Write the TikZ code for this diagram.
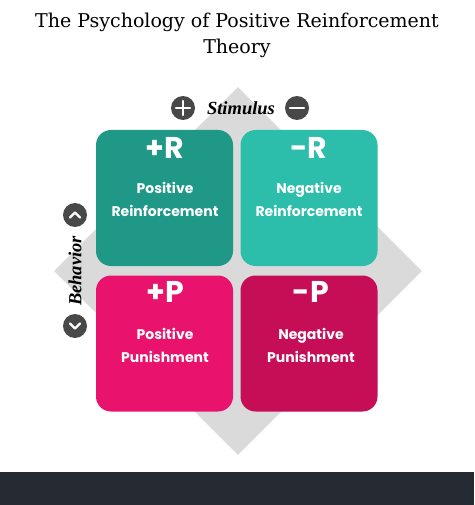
\documentclass[tikz,border=0pt]{standalone}
\usetikzlibrary{shapes.geometric}
\usepackage{fontspec}
\setmainfont{DejaVu Serif}
\newfontfamily\boxfont{Poppins}
\newfontfamily\labfont{Liberation Serif}
\definecolor{tealA}{RGB}{31,152,136}
\definecolor{tealB}{RGB}{44,190,170}
\definecolor{pinkA}{RGB}{233,18,108}
\definecolor{pinkB}{RGB}{198,14,86}
\definecolor{diag}{RGB}{218,218,218}
\definecolor{icon}{RGB}{72,72,72}
\definecolor{bar}{RGB}{37,42,51}
\tikzset{
  quad/.style={rounded corners=15pt, minimum width=137pt, minimum height=136pt, inner sep=0pt, draw=none},
  big/.style={text=white, font=\boxfont\bfseries\fontsize{30}{30}\selectfont, inner sep=0pt},
  lbl/.style={text=white, font=\boxfont\bfseries\fontsize{14}{23}\selectfont, align=center, inner sep=0pt},
  ico/.style={circle, fill=icon, minimum size=24pt, inner sep=0pt},
  sym/.style={white, line width=2.2pt, line cap=round, line join=round},
  axis/.style={font=\labfont\bfseries\itshape\fontsize{18.5}{18.5}\selectfont, inner sep=0pt},
}
\begin{document}
\begin{tikzpicture}[x=1pt,y=-1pt]
\useasboundingbox (0,0) rectangle (474,505);
\fill[white] (0,0) rectangle (474,505);
% title
\node[font=\fontsize{19}{26}\selectfont, align=center, inner sep=0pt] (title) at (237,35) {The Psychology of Positive Reinforcement\\Theory};
% diamond
\node[diamond, fill=diag, minimum width=368pt, minimum height=368pt, inner sep=0pt] (dia) at (238,271) {};
% quadrants
\node[quad, fill=tealA] (pr) at (164.5,198) {};
\node[quad, fill=tealB] (nr) at (309,198) {};
\node[quad, fill=pinkA] (pp) at (164.5,343.5) {};
\node[quad, fill=pinkB] (np) at (309,343.5) {};
% texts
\node[big] (prt) at (165,148) {+R};
\node[lbl] (prl) at (165,199) {Positive\\Reinforcement};
\node[big] (nrt) at (309,148) {-R};
\node[lbl] (nrl) at (309,199) {Negative\\Reinforcement};
\node[big] (ppt) at (165,292) {+P};
\node[lbl] (ppl) at (165,345) {Positive\\Punishment};
\node[big] (npt) at (311,292) {-P};
\node[lbl] (npl) at (311,345) {Negative\\Punishment};
% stimulus axis
\node[axis] (stim) at (241,108) {Stimulus};
\node[ico] (plus) at (183,108) {};
\draw[sym] ([xshift=-7pt]plus.center) -- ([xshift=7pt]plus.center);
\draw[sym] ([yshift=-7pt]plus.center) -- ([yshift=7pt]plus.center);
\node[ico] (minus) at (297,108) {};
\draw[sym] ([xshift=-7pt]minus.center) -- ([xshift=7pt]minus.center);
% behavior axis
\node[axis, rotate=90] (beh) at (75,271) {Behavior};
\node[ico] (up) at (75,215) {};
\draw[sym] ([shift={(-5pt,-2.5pt)}]up.center) -- ([yshift=2.5pt]up.center) -- ([shift={(5pt,-2.5pt)}]up.center);
\node[ico] (down) at (75,326) {};
\draw[sym] ([shift={(-5pt,2.5pt)}]down.center) -- ([yshift=-2.5pt]down.center) -- ([shift={(5pt,2.5pt)}]down.center);
% bottom bar
\fill[bar] (0,472) rectangle (474,505);
\end{tikzpicture}
\end{document}
